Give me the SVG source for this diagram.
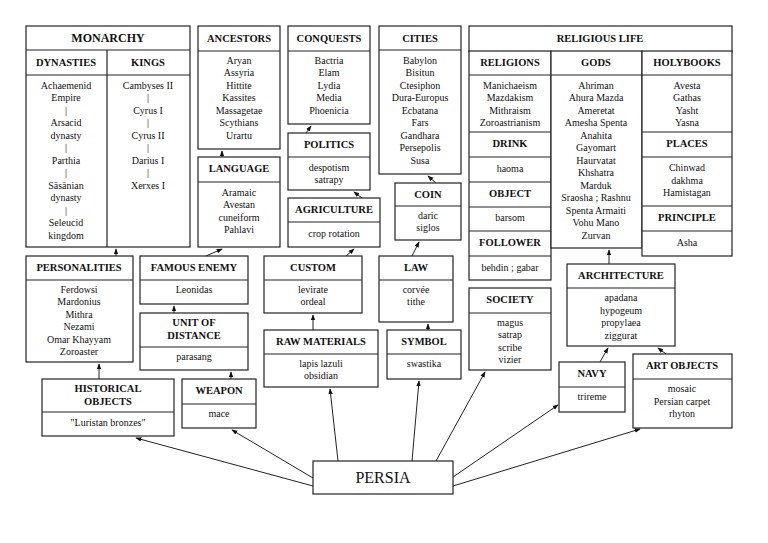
<svg xmlns="http://www.w3.org/2000/svg" width="768" height="543" viewBox="0 0 768 543" font-family="'Liberation Serif', 'DejaVu Serif', serif">
<style>
rect{fill:#fff;stroke:#222;stroke-width:1.2}
line.d{stroke:#222;stroke-width:1.2}
text{font-family:'Liberation Serif','DejaVu Serif',serif;font-size:10px;fill:#111;text-anchor:middle}
.h{font-weight:bold;font-size:10.5px}
.c line{stroke:#222;stroke-width:1}
</style>
<defs><marker id="a" viewBox="0 0 8 8" refX="7" refY="4" markerWidth="6" markerHeight="6" orient="auto"><path d="M0,1 L8,4 L0,7z" fill="#111"/></marker></defs>
<rect x="0" y="0" width="768" height="543" style="stroke:none"/>

<g id="monarchy"><rect x="26" y="26" width="164" height="221"/><line class="d" x1="26" y1="50" x2="190" y2="50"/><line class="d" x1="26" y1="75" x2="190" y2="75"/><line class="d" x1="107" y1="50" x2="107" y2="247"/>
<text class="h" x="108" y="42" style="font-size:12px">MONARCHY</text><text class="h" x="66" y="66">DYNASTIES</text><text class="h" x="148" y="66">KINGS</text>
<text x="66" y="89">Achaemenid</text><text x="66" y="101">Empire</text><text x="66" y="114">|</text><text x="66" y="126">Arsacid</text><text x="66" y="139">dynasty</text><text x="66" y="151">|</text><text x="66" y="164">Parthia</text><text x="66" y="176">|</text><text x="66" y="189">Sāsānian</text><text x="66" y="201">dynasty</text><text x="66" y="214">|</text><text x="66" y="226">Seleucid</text><text x="66" y="239">kingdom</text>
<text x="148" y="89">Cambyses II</text><text x="148" y="101">|</text><text x="148" y="114">Cyrus I</text><text x="148" y="126">|</text><text x="148" y="139">Cyrus II</text><text x="148" y="151">|</text><text x="148" y="164">Darius I</text><text x="148" y="176">|</text><text x="148" y="189">Xerxes I</text></g>

<g id="ancestors"><rect x="198" y="26" width="82" height="123"/><line class="d" x1="198" y1="51" x2="280" y2="51"/><text class="h" x="239" y="42">ANCESTORS</text>
<text x="239" y="64">Aryan</text><text x="239" y="76">Assyria</text><text x="239" y="89">Hittite</text><text x="239" y="101">Kassites</text><text x="239" y="114">Massagetae</text><text x="239" y="126">Scythians</text><text x="239" y="139">Urartu</text></g>
<g id="language"><rect x="198" y="157" width="82" height="90"/><line class="d" x1="198" y1="182" x2="280" y2="182"/><text class="h" x="239" y="172">LANGUAGE</text>
<text x="239" y="196">Aramaic</text><text x="239" y="208">Avestan</text><text x="239" y="221">cuneiform</text><text x="239" y="233">Pahlavi</text></g>

<g id="conquests"><rect x="288" y="26" width="82" height="98"/><line class="d" x1="288" y1="51" x2="370" y2="51"/><text class="h" x="329" y="42">CONQUESTS</text>
<text x="329" y="64">Bactria</text><text x="329" y="76">Elam</text><text x="329" y="89">Lydia</text><text x="329" y="101">Media</text><text x="329" y="114">Phoenicia</text></g>
<g id="politics"><rect x="288" y="133" width="82" height="57"/><line class="d" x1="288" y1="157" x2="370" y2="157"/><text class="h" x="329" y="148">POLITICS</text>
<text x="329" y="171">despotism</text><text x="329" y="183">satrapy</text></g>
<g id="agriculture"><rect x="288" y="198" width="92" height="49"/><line class="d" x1="288" y1="222" x2="380" y2="222"/><text class="h" x="334" y="213">AGRICULTURE</text><text x="334" y="237">crop rotation</text></g>

<g id="cities"><rect x="379" y="26" width="82" height="148"/><line class="d" x1="379" y1="50" x2="461" y2="50"/><text class="h" x="420" y="42">CITIES</text>
<text x="420" y="64">Babylon</text><text x="420" y="76">Bisitun</text><text x="420" y="89">Ctesiphon</text><text x="420" y="101">Dura-Europus</text><text x="420" y="114">Ecbatana</text><text x="420" y="126">Fars</text><text x="420" y="139">Gandhara</text><text x="420" y="151">Persepolis</text><text x="420" y="164">Susa</text></g>
<g id="coin"><rect x="395" y="183" width="66" height="57"/><line class="d" x1="395" y1="206" x2="461" y2="206"/><text class="h" x="428" y="198">COIN</text><text x="428" y="219">daric</text><text x="428" y="231">siglos</text></g>

<g id="religious"><rect x="469" y="26" width="263" height="26"/><text class="h" x="600" y="42">RELIGIOUS LIFE</text>
<rect x="469" y="51" width="82" height="229"/><line class="d" x1="469" y1="75" x2="551" y2="75"/><line class="d" x1="469" y1="132" x2="551" y2="132"/><line class="d" x1="469" y1="157" x2="551" y2="157"/><line class="d" x1="469" y1="182" x2="551" y2="182"/><line class="d" x1="469" y1="207" x2="551" y2="207"/><line class="d" x1="469" y1="231" x2="551" y2="231"/><line class="d" x1="469" y1="256" x2="551" y2="256"/>
<text class="h" x="510" y="66">RELIGIONS</text><text x="510" y="89">Manichaeism</text><text x="510" y="101">Mazdakism</text><text x="510" y="114">Mithraism</text><text x="510" y="126">Zoroastrianism</text>
<text class="h" x="510" y="147">DRINK</text><text x="510" y="172">haoma</text><text class="h" x="510" y="197">OBJECT</text><text x="510" y="221">barsom</text><text class="h" x="510" y="246">FOLLOWER</text><text x="510" y="271">behdin ; gabar</text>
<rect x="551" y="51" width="91" height="197"/><line class="d" x1="551" y1="75" x2="642" y2="75"/><text class="h" x="596" y="66">GODS</text>
<text x="596" y="89">Ahriman</text><text x="596" y="101">Ahura Mazda</text><text x="596" y="114">Ameretat</text><text x="596" y="126">Amesha Spenta</text><text x="596" y="139">Anahita</text><text x="596" y="151">Gayomart</text><text x="596" y="164">Haurvatat</text><text x="596" y="176">Khshatra</text><text x="596" y="189">Marduk</text><text x="596" y="201">Sraosha ; Rashnu</text><text x="596" y="214">Spenta Armaiti</text><text x="596" y="226">Vohu Mano</text><text x="596" y="239">Zurvan</text>
<rect x="642" y="51" width="90" height="205"/><line class="d" x1="642" y1="75" x2="732" y2="75"/><line class="d" x1="642" y1="132" x2="732" y2="132"/><line class="d" x1="642" y1="157" x2="732" y2="157"/><line class="d" x1="642" y1="206" x2="732" y2="206"/><line class="d" x1="642" y1="231" x2="732" y2="231"/>
<text class="h" x="687" y="66">HOLYBOOKS</text><text x="687" y="89">Avesta</text><text x="687" y="101">Gathas</text><text x="687" y="114">Yasht</text><text x="687" y="126">Yasna</text>
<text class="h" x="687" y="147">PLACES</text><text x="687" y="171">Chinwad</text><text x="687" y="184">dakhma</text><text x="687" y="196">Hamistagan</text><text class="h" x="687" y="221">PRINCIPLE</text><text x="687" y="246">Asha</text></g>

<g id="personalities"><rect x="26" y="256" width="107" height="106"/><line class="d" x1="26" y1="280" x2="133" y2="280"/><text class="h" x="79" y="271">PERSONALITIES</text>
<text x="79" y="293">Ferdowsi</text><text x="79" y="305">Mardonius</text><text x="79" y="318">Mithra</text><text x="79" y="330">Nezami</text><text x="79" y="343">Omar Khayyam</text><text x="79" y="355">Zoroaster</text></g>
<g id="famousenemy"><rect x="140" y="256" width="108" height="48"/><line class="d" x1="140" y1="280" x2="248" y2="280"/><text class="h" x="194" y="271">FAMOUS ENEMY</text><text x="194" y="293">Leonidas</text></g>
<g id="unit"><rect x="140" y="313" width="108" height="57"/><line class="d" x1="140" y1="347" x2="248" y2="347"/><text class="h" x="194" y="326">UNIT OF</text><text class="h" x="194" y="339">DISTANCE</text><text x="194" y="360">parasang</text></g>
<g id="historical"><rect x="42" y="379" width="132" height="57"/><line class="d" x1="42" y1="412" x2="174" y2="412"/><text class="h" x="108" y="392">HISTORICAL</text><text class="h" x="108" y="405">OBJECTS</text><text x="108" y="426">"Luristan bronzes"</text></g>
<g id="weapon"><rect x="182" y="379" width="74" height="49"/><line class="d" x1="182" y1="404" x2="256" y2="404"/><text class="h" x="219" y="394">WEAPON</text><text x="219" y="417">mace</text></g>
<g id="custom"><rect x="264" y="256" width="98" height="57"/><line class="d" x1="264" y1="280" x2="362" y2="280"/><text class="h" x="313" y="271">CUSTOM</text><text x="313" y="293">levirate</text><text x="313" y="305">ordeal</text></g>
<g id="raw"><rect x="264" y="330" width="114" height="57"/><line class="d" x1="264" y1="354" x2="378" y2="354"/><text class="h" x="321" y="345">RAW MATERIALS</text><text x="321" y="367">lapis lazuli</text><text x="321" y="379">obsidian</text></g>
<g id="law"><rect x="379" y="256" width="74" height="66"/><line class="d" x1="379" y1="280" x2="453" y2="280"/><text class="h" x="416" y="271">LAW</text><text x="416" y="293">corvée</text><text x="416" y="305">tithe</text></g>
<g id="symbol"><rect x="387" y="330" width="74" height="49"/><line class="d" x1="387" y1="354" x2="461" y2="354"/><text class="h" x="424" y="345">SYMBOL</text><text x="424" y="367">swastika</text></g>
<g id="society"><rect x="469" y="288" width="82" height="82"/><line class="d" x1="469" y1="313" x2="551" y2="313"/><text class="h" x="510" y="303">SOCIETY</text><text x="510" y="326">magus</text><text x="510" y="338">satrap</text><text x="510" y="351">scribe</text><text x="510" y="363">vizier</text></g>
<g id="architecture"><rect x="567" y="264" width="108" height="82"/><line class="d" x1="567" y1="288" x2="675" y2="288"/><text class="h" x="621" y="279">ARCHITECTURE</text><text x="621" y="301">apadana</text><text x="621" y="314">hypogeum</text><text x="621" y="326">propylaea</text><text x="621" y="339">ziggurat</text></g>
<g id="navy"><rect x="559" y="362" width="66" height="50"/><line class="d" x1="559" y1="387" x2="625" y2="387"/><text class="h" x="592" y="377">NAVY</text><text x="592" y="400">trireme</text></g>
<g id="art"><rect x="633" y="354" width="99" height="74"/><line class="d" x1="633" y1="379" x2="732" y2="379"/><text class="h" x="682" y="369">ART  OBJECTS</text><text x="682" y="392">mosaic</text><text x="682" y="405">Persian carpet</text><text x="682" y="417">rhyton</text></g>
<g id="persia"><rect x="313" y="461" width="140" height="33"/><text x="383" y="483" style="font-size:16px">PERSIA</text></g>

<g class="c" marker-end="url(#a)">
<line x1="313" y1="486" x2="136" y2="438"/><line x1="313" y1="478" x2="232" y2="430"/><line x1="338" y1="461" x2="330" y2="389"/><line x1="412" y1="461" x2="419" y2="381"/><line x1="436" y1="461" x2="485" y2="372"/><line x1="453" y1="477" x2="558" y2="405"/><line x1="453" y1="486" x2="640" y2="429"/>
<line x1="99" y1="379" x2="99" y2="364"/><line x1="231" y1="379" x2="231" y2="372"/><line x1="174" y1="313" x2="174" y2="306"/><line x1="116" y1="256" x2="116" y2="249"/><line x1="206" y1="256" x2="222" y2="249"/><line x1="346" y1="256" x2="354" y2="249"/><line x1="313" y1="330" x2="313" y2="315"/><line x1="428" y1="330" x2="428" y2="324"/><line x1="412" y1="256" x2="419" y2="242"/><line x1="436" y1="183" x2="428" y2="176"/><line x1="362" y1="198" x2="354" y2="192"/><line x1="306" y1="133" x2="311" y2="126"/><line x1="222" y1="157" x2="222" y2="151"/><line x1="609" y1="264" x2="609" y2="250"/><line x1="600" y1="362" x2="608" y2="348"/><line x1="666" y1="354" x2="658" y2="348"/>
</g>
</svg>
